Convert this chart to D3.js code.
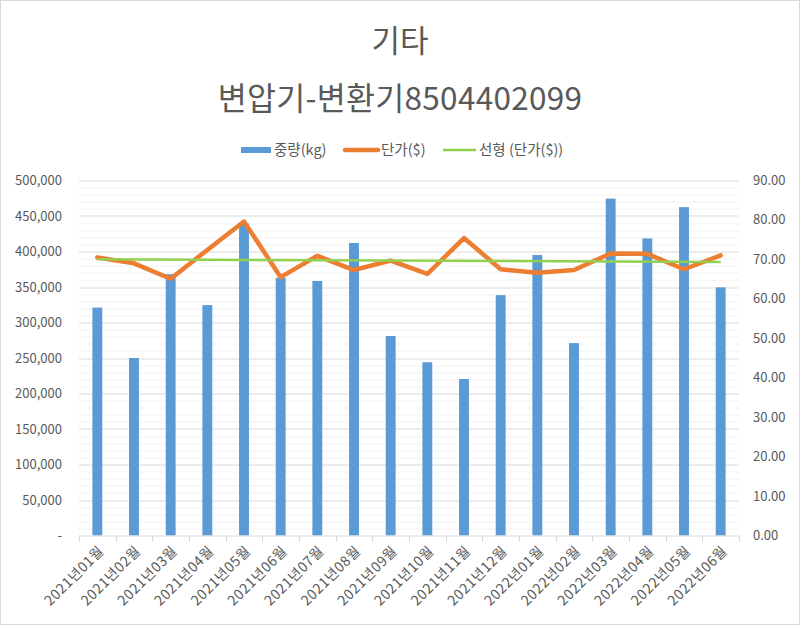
<!DOCTYPE html>
<html>
<head>
<meta charset="utf-8">
<script src="https://cdn.jsdelivr.net/npm/d3@7"></script>
<style>
  body { margin: 0; background: #fff; }
  text { font-family: "Noto Sans CJK KR", "Noto Sans", sans-serif; fill: #595959; }
</style>
</head>
<body>
<div id="wrapper"></div>
<script>
// data
const months = [
  "2021년01월", "2021년02월", "2021년03월", "2021년04월", "2021년05월", "2021년06월",
  "2021년07월", "2021년08월", "2021년09월", "2021년10월", "2021년11월", "2021년12월",
  "2022년01월", "2022년02월", "2022년03월", "2022년04월", "2022년05월", "2022년06월"
];
const weightKg = [
  321000, 250000, 368000, 324500, 439500, 363000,
  358500, 412000, 281000, 244000, 220500, 338500,
  395000, 271000, 474500, 418500, 462500, 349500
];
const unitPrice = [
  70.5, 69.0, 65.1, 72.4, 79.6, 65.5,
  70.9, 67.3, 69.7, 66.3, 75.4, 67.5,
  66.6, 67.3, 71.5, 71.4, 67.5, 71.0
];
const leftTicks = [0, 50000, 100000, 150000, 200000, 250000, 300000, 350000, 400000, 450000, 500000];
const rightTicks = [0, 10, 20, 30, 40, 50, 60, 70, 80, 90];
const legendLabels = ["중량(kg)", "단가($)", "선형 (단가($))"];

function drawChart() {
  const width = 800, height = 625;
  const margin = { top: 180.5, right: 61, bottom: 89.5, left: 79 };
  const bw = width - margin.left - margin.right;
  const bh = height - margin.top - margin.bottom;

  const svg = d3.select("#wrapper").append("svg")
    .attr("width", width)
    .attr("height", height);

  // outer chart border
  svg.append("rect")
    .attr("x", 0.5).attr("y", 0.5)
    .attr("width", width - 1).attr("height", height - 1)
    .attr("fill", "#fff")
    .attr("stroke", "#d9d9d9");

  // titles
  svg.append("text")
    .attr("x", width / 2).attr("y", 52)
    .attr("text-anchor", "middle")
    .style("font-size", "31px")
    .text("기타");
  svg.append("text")
    .attr("x", width / 2).attr("y", 110)
    .attr("text-anchor", "middle")
    .style("font-size", "31.5px")
    .style("letter-spacing", "0.3px")
    .text("변압기-변환기8504402099");

  const bounds = svg.append("g")
    .attr("transform", `translate(${margin.left}, ${margin.top})`);

  // scales
  const xScale = d3.scaleBand().domain(months).range([0, bw]).padding(0);
  const yLeft = d3.scaleLinear().domain([0, 500000]).range([bh, 0]);
  const yRight = d3.scaleLinear().domain([0, 90]).range([bh, 0]);

  // minor grid every 10,000
  bounds.append("g")
    .selectAll("line")
    .data(d3.range(0, 500001, 10000).filter(v => v % 50000 !== 0))
    .join("line")
    .attr("x1", 0).attr("x2", bw)
    .attr("y1", d => Math.round(yLeft(d)) + 0.5)
    .attr("y2", d => Math.round(yLeft(d)) + 0.5)
    .attr("stroke", "#f2f2f2");

  // major grid
  bounds.append("g")
    .selectAll("line")
    .data(leftTicks.filter(v => v > 0))
    .join("line")
    .attr("x1", 0).attr("x2", bw)
    .attr("y1", d => Math.round(yLeft(d)) + 0.5)
    .attr("y2", d => Math.round(yLeft(d)) + 0.5)
    .attr("stroke", "#d9d9d9");

  // bars
  const barW = xScale.bandwidth() * 0.27;
  bounds.append("g")
    .selectAll("rect")
    .data(months)
    .join("rect")
    .attr("x", (d, i) => xScale(d) + xScale.bandwidth() / 2 - barW / 2)
    .attr("y", (d, i) => yLeft(weightKg[i]))
    .attr("width", barW)
    .attr("height", (d, i) => bh - yLeft(weightKg[i]))
    .attr("fill", "#5b9bd5");

  // x axis line + ticks
  const xAxis = bounds.append("g")
    .attr("transform", `translate(0, ${bh})`);
  xAxis.append("line")
    .attr("x1", 0).attr("x2", bw)
    .attr("y1", 0.5).attr("y2", 0.5)
    .attr("stroke", "#d9d9d9");
  xAxis.selectAll(".tick")
    .data(d3.range(months.length + 1))
    .join("line")
    .attr("class", "tick")
    .attr("x1", i => Math.round(i * xScale.step()) + 0.5)
    .attr("x2", i => Math.round(i * xScale.step()) + 0.5)
    .attr("y1", 0).attr("y2", 6)
    .attr("stroke", "#d9d9d9");
  xAxis.selectAll(".xlabel")
    .data(months)
    .join("text")
    .attr("class", "xlabel")
    .attr("transform", d => `translate(${xScale(d) + xScale.bandwidth() / 2 + 4}, 13) rotate(-45)`)
    .attr("text-anchor", "end")
    .attr("dy", "0.35em")
    .style("font-size", "14px")
    .style("letter-spacing", "0.6px")
    .text(d => d);

  // left axis labels
  bounds.append("g")
    .selectAll("text")
    .data(leftTicks)
    .join("text")
    .attr("x", -17)
    .attr("y", d => yLeft(d))
    .attr("dy", "0.35em")
    .attr("text-anchor", "end")
    .style("font-size", "13px")
    .text(d => d === 0 ? "-" : d3.format(",")(d));

  // right axis labels
  bounds.append("g")
    .selectAll("text")
    .data(rightTicks)
    .join("text")
    .attr("x", bw + 14)
    .attr("y", d => yRight(d))
    .attr("dy", "0.35em")
    .attr("text-anchor", "start")
    .style("font-size", "13px")
    .text(d => d.toFixed(2));

  // price line
  const cx = d => xScale(d) + xScale.bandwidth() / 2;
  const priceLine = d3.line()
    .x((d, i) => cx(months[i]))
    .y(d => yRight(d));
  bounds.append("path")
    .attr("d", priceLine(unitPrice))
    .attr("fill", "none")
    .attr("stroke", "#ed7d31")
    .attr("stroke-width", 4.5)
    .attr("stroke-linejoin", "round")
    .attr("stroke-linecap", "round");

  // linear trendline (least squares on the price series)
  const n = unitPrice.length;
  const xs = d3.range(n);
  const mx = d3.mean(xs), my = d3.mean(unitPrice);
  const slope = d3.sum(xs, i => (i - mx) * (unitPrice[i] - my)) / d3.sum(xs, i => (i - mx) ** 2);
  const icpt = my - slope * mx;
  const trend = [0, n - 1].map(i => ({ i, v: icpt + slope * i }));
  bounds.append("path")
    .attr("d", d3.line().x(d => cx(months[d.i])).y(d => yRight(d.v))(trend))
    .attr("fill", "none")
    .attr("stroke", "#92d050")
    .attr("stroke-width", 2.5);

  // legend
  const legend = svg.append("g").attr("transform", "translate(0, 150)");
  const items = [
    { x: 241, w: 30, color: "#5b9bd5", sw: 6, label: legendLabels[0], round: false },
    { x: 345, w: 33, color: "#ed7d31", sw: 4.5, label: legendLabels[1], round: true },
    { x: 443, w: 33, color: "#92d050", sw: 2.5, label: legendLabels[2], round: false }
  ];
  items.forEach(it => {
    legend.append("line")
      .attr("x1", it.x).attr("x2", it.x + it.w)
      .attr("y1", 0).attr("y2", 0)
      .attr("stroke", it.color)
      .attr("stroke-width", it.sw)
      .attr("stroke-linecap", it.round ? "round" : "butt");
    legend.append("text")
      .attr("x", it.x + it.w + 3)
      .attr("y", 0)
      .attr("dy", "0.35em")
      .style("font-size", "14.5px")
      .text(it.label);
  });
}

drawChart();
</script>
</body>
</html>
